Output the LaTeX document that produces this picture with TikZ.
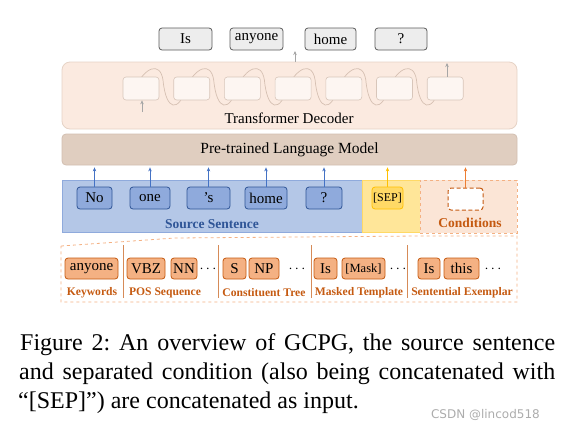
\documentclass[tikz,border=0pt]{standalone}
\usepackage{fontspec}
\setmainfont{Liberation Serif}
\newfontfamily\wmfont{DejaVu Sans}
\usetikzlibrary{arrows.meta}
\frenchspacing
\definecolor{decfill}{HTML}{FBEAE0}
\definecolor{decdraw}{HTML}{E6D3C6}
\definecolor{inbox}{HTML}{FDF6F2}
\definecolor{inboxd}{HTML}{D8C6BA}
\definecolor{wave}{HTML}{D6C0B2}
\definecolor{lmfill}{HTML}{E0CEC0}
\definecolor{lmdraw}{HTML}{D2BFB1}
\definecolor{outfill}{HTML}{EDEDED}
\definecolor{outdraw}{HTML}{5A5A5A}
\definecolor{srcfill}{HTML}{B4C7E7}
\definecolor{srcdraw}{HTML}{8FAADC}
\definecolor{srctok}{HTML}{8FAADC}
\definecolor{srctokd}{HTML}{2F5597}
\definecolor{srcarrow}{HTML}{4472C4}
\definecolor{sepfill}{HTML}{FFE699}
\definecolor{septok}{HTML}{FFD966}
\definecolor{sepdraw}{HTML}{FFC000}
\definecolor{condfill}{HTML}{FBE5D6}
\definecolor{conddraw}{HTML}{F4B183}
\definecolor{orng}{HTML}{C55A11}
\definecolor{orarrow}{HTML}{ED7D31}
\definecolor{ctok}{HTML}{F4B183}
\tikzset{
  tokbase/.style={rounded corners=3pt, inner sep=0pt, minimum height=22pt, line width=0.8pt, font=\fontsize{15}{15}\selectfont},
  outtok/.style={tokbase, draw=outdraw, fill=outfill},
  srctoken/.style={tokbase, draw=srctokd, fill=srctok},
  ctoken/.style={tokbase, draw=orng, fill=ctok, minimum height=21pt, font=\fontsize{15}{15}\selectfont},
  inner/.style={draw=inboxd, fill=inbox, rounded corners=3pt, minimum width=36pt, minimum height=23pt, inner sep=0pt, line width=0.6pt},
  clabel/.style={text=orng, font=\fontsize{11.6}{11.6}\selectfont\bfseries, inner sep=0pt},
  arr/.style={-{Stealth[length=4pt,width=3.5pt]}, line width=0.8pt},
  greyarr/.style={-{Stealth[length=4pt,width=3.5pt]}, line width=0.6pt, draw=gray!70},
  dots/.style={inner sep=0pt, font=\fontsize{14}{14}\selectfont},
  sepline/.style={draw=orng!70, line width=0.6pt},
  captext/.style={anchor=base west, inner sep=0pt, font=\fontsize{24}{29}\selectfont},
}
\begin{document}
\begin{tikzpicture}[x=1pt,y=-1pt]
\useasboundingbox (0,0) rectangle (564,429);
% output tokens
\node[outtok, minimum width=53pt] (o1) at (185.5,39) {Is};
\node[outtok, minimum width=53pt] (o2) at (256.5,39) {anyone};
\node[outtok, minimum width=51pt] (o3) at (330.5,39) {home};
\node[outtok, minimum width=52pt] (o4) at (401,39) {?};
% decoder
\node[draw=decdraw, fill=decfill, rounded corners=8pt, minimum width=455pt, minimum height=67pt, inner sep=0pt, line width=0.8pt] (dec) at (289.5,95.5) {};
\coordinate (outtip) at (295,51);
\draw[greyarr] (dec.north -| outtip) -- (outtip);
% wave
\foreach \i in {0,...,5}{
  \pgfmathsetmacro{\xx}{123+50.7*\i}
  \draw[wave, line width=0.7pt] (\xx+12,88) .. controls (\xx+22,67) and (\xx+37,61) .. (\xx+40,80) .. controls (\xx+43,112) and (\xx+56,112) .. (\xx+63,88);
}
\foreach \i in {0,...,6}{
  \node[inner] (d\i) at (141+50.7*\i,88.5) {};
}
\coordinate (inbot) at (142,112);
\draw[greyarr] (inbot) -- (d0.south -| inbot);
\coordinate (outtop) at (447,63);
\draw[greyarr] (d6.north -| outtop) -- (outtop);
\node[inner sep=0pt, font=\fontsize{15}{15}\selectfont] (declab) at (289,118) {Transformer Decoder};
% LM
\node[draw=lmdraw, fill=lmfill, rounded corners=4pt, minimum width=455pt, minimum height=31pt, inner sep=0pt, line width=0.8pt, font=\fontsize{15.5}{15.5}\selectfont] (lm) at (289.5,149.5) {Pre-trained Language Model};
% panels
\node[draw=srcdraw, fill=srcfill, minimum width=300pt, minimum height=52pt, inner sep=0pt, line width=0.8pt] (src) at (212,206) {};
\node[draw=sepdraw!60, fill=sepfill, minimum width=58pt, minimum height=52pt, inner sep=0pt, line width=0.6pt] (sep) at (391,206) {};
\node[draw=conddraw, fill=condfill, dashed, minimum width=97pt, minimum height=53pt, inner sep=0pt, line width=0.8pt] (cond) at (468.5,206.5) {};
% source tokens
\node[srctoken, minimum width=35pt] (s1) at (94.5,198) {No};
\node[srctoken, minimum width=40pt] (s2) at (150,198) {one};
\node[srctoken, minimum width=43pt] (s3) at (208.5,198) {'s};
\node[srctoken, minimum width=42pt] (s4) at (266,198) {home};
\node[srctoken, minimum width=36pt] (s5) at (324,198) {?};
\node[tokbase, draw=sepdraw, fill=septok, minimum width=31pt, font=\fontsize{12}{12}\selectfont] (septok) at (387.5,198) {[SEP]};
\node[tokbase, draw=orng, fill=white, dashed, dash pattern=on 4pt off 2.5pt, line width=1pt, minimum width=35pt] (condtok) at (465.5,199) {};
\foreach \s in {s1,s2,s3,s4,s5}{
  \draw[arr, draw=srcarrow, shorten >=2pt] (\s.north) -- (\s.north |- lm.south);
}
\draw[arr, draw=sepdraw, shorten >=2pt] (septok.north) -- (septok.north |- lm.south);
\draw[arr, draw=orarrow, shorten >=2pt] (condtok.north) -- (condtok.north |- lm.south);
\node[inner sep=0pt, text=srctokd, font=\fontsize{13.5}{13.5}\selectfont\bfseries] (srclab) at (212,224) {Source Sentence};
\node[inner sep=0pt, text=orng, font=\fontsize{13.5}{13.5}\selectfont\bfseries] (condlab) at (470,223) {Conditions};
% bottom callout panel
\draw[draw=conddraw, dashed, line width=0.8pt] (61,246) -- (175,238) -- (420,236) -- (517,236) -- (517,302) -- (61,302) -- cycle;
\foreach \xs in {123,218,311,407}{
  \draw[sepline] (\xs,245) -- (\xs,298);
}
\node[ctoken, minimum width=53pt] (k1) at (91.5,268.5) {anyone};
\node[ctoken, minimum width=38pt] (p1) at (146,268.5) {VBZ};
\node[ctoken, minimum width=26pt] (p2) at (184,268.5) {NN};
\node[dots] (pd) at (208,269) {$\cdots$};
\node[ctoken, minimum width=23pt] (c1) at (234.5,268.5) {S};
\node[ctoken, minimum width=30pt] (c2) at (264,268.5) {NP};
\node[dots] (cd) at (297,269) {$\cdots$};
\node[ctoken, minimum width=23pt] (m1) at (325.5,268.5) {Is};
\node[ctoken, minimum width=43pt, font=\fontsize{12.5}{12.5}\selectfont] (m2) at (363.5,268.5) {[Mask]};
\node[dots] (md) at (398,269) {$\cdots$};
\node[ctoken, minimum width=22pt] (e1) at (429,268.5) {Is};
\node[ctoken, minimum width=35pt] (e2) at (461.5,268.5) {this};
\node[dots] (ed) at (493,269) {$\cdots$};
\node[clabel] (l1) at (92,293) {Keywords};
\node[clabel] (l2) at (165,293) {POS Sequence};
\node[clabel] (l3) at (264,293) {Constituent Tree};
\node[clabel] (l4) at (359,293) {Masked Template};
\node[clabel] (l5) at (462,293) {Sentential Exemplar};
% caption
\node[captext] (cap1) at (20,350) {\makebox[535pt][s]{Figure 2: An overview of GCPG, the source sentence}};
\node[captext] (cap2) at (19,379) {\makebox[536pt][s]{and separated condition (also being concatenated with}};
\node[captext] (cap3) at (18,408) {``[SEP]'') are concatenated as input.};
\node[anchor=base east, inner sep=0pt, text=gray!65, font=\wmfont\fontsize{12}{12}\selectfont] (wm) at (540,418) {CSDN @lincod518};
\end{tikzpicture}
\end{document}
